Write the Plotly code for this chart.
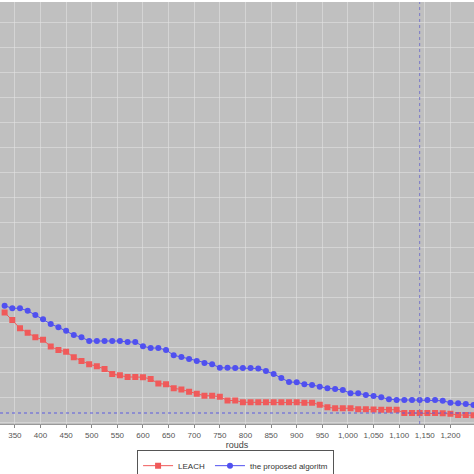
import plotly.graph_objects as go

# rondas (eje x), un punto cada 15 rondas
rounds = [330, 345, 360, 375, 390, 405, 420, 435, 450, 465, 480, 495, 510, 525, 540,
          555, 570, 585, 600, 615, 630, 645, 660, 675, 690, 705, 720, 735, 750, 765,
          780, 795, 810, 825, 840, 855, 870, 885, 900, 915, 930, 945, 960, 975, 990,
          1005, 1020, 1035, 1050, 1065, 1080, 1095, 1110, 1125, 1140, 1155, 1170, 1185,
          1200, 1215, 1230, 1245]

# LEACH
leach = [43.8, 40.8, 37.5, 35.7, 33.9, 32.9, 30.2, 28.8, 28.1, 25.9, 24.4, 23.1, 22.3, 21.2, 19.2,
         18.7, 18.0, 18.0, 17.9, 17.2, 15.4, 15.1, 13.5, 13.0, 12.1, 11.3, 10.5, 10.5, 10.1, 8.6,
         8.6, 7.9, 7.9, 7.9, 7.9, 7.9, 7.9, 7.9, 7.9, 7.7, 7.7, 6.9, 5.9, 5.5, 5.5,
         5.5, 5.1, 5.1, 5.0, 4.9, 4.9, 4.9, 3.6, 3.6, 3.6, 3.6, 3.6, 3.5,
         3.3, 2.8, 2.8, 2.7]

# algoritmo propuesto
proposed = [46.5, 45.5, 45.5, 44.5, 42.8, 41.1, 39.2, 37.9, 36.5, 34.8, 33.9, 32.4, 32.4, 32.4, 32.4,
            32.4, 32.0, 32.0, 30.3, 29.6, 29.6, 28.8, 26.7, 26.0, 25.2, 24.4, 23.6, 23.1, 21.7, 21.7,
            21.6, 21.6, 21.6, 21.4, 20.4, 19.2, 17.6, 16.0, 15.9, 15.1, 14.8, 14.1, 13.5, 13.2, 12.8,
            11.5, 11.5, 10.8, 10.4, 9.9, 9.1, 8.8, 8.8, 8.8, 8.8, 8.8, 8.8, 8.5,
            7.7, 7.5, 7.2, 6.8]

# punto del crosshair (serie LEACH, ronda 1140)
cross_x = rounds[54]
cross_y = leach[54]

fig = go.Figure()

fig.add_trace(go.Scatter(
    x=rounds, y=leach, name='LEACH', mode='lines+markers',
    line=dict(color='#f05a5a', width=1),
    marker=dict(symbol='square', size=6, color='#f05a5a')))

fig.add_trace(go.Scatter(
    x=rounds, y=proposed, name='the proposed algoritm', mode='lines+markers',
    line=dict(color='#5050f0', width=1),
    marker=dict(symbol='circle', size=6, color='#5050f0')))

# crosshair punteado
fig.add_shape(type='line', xref='x', yref='paper', x0=cross_x, x1=cross_x, y0=0, y1=1,
              line=dict(color='#7878c8', width=1, dash='dot'))
fig.add_shape(type='line', xref='paper', yref='y', x0=0, x1=1, y0=cross_y, y1=cross_y,
              line=dict(color='#5a5ae0', width=1, dash='dot'))

fig.update_layout(
    width=474, height=474,
    margin=dict(l=0, r=0, t=2, b=50, pad=0, autoexpand=False),
    paper_bgcolor='white',
    plot_bgcolor='#c0c0c0',
    font=dict(family='Liberation Sans', size=8, color='#444444'),
    showlegend=True,
    legend=dict(orientation='h', x=0.497, xanchor='center', y=-0.062, yanchor='top',
                bgcolor='white', bordercolor='#555555', borderwidth=1,
                font=dict(size=8, color='#333333'), itemwidth=30,
                tracegroupgap=0),
    xaxis=dict(range=[321, 1246], dtick=50, tick0=0, tickformat=',d', automargin=False,
               showgrid=True, gridcolor='rgba(225,225,225,0.6)', gridwidth=1,
               ticks='outside', ticklen=3, tickcolor='#888888',
               showline=True, linecolor='#999999',
               zeroline=False, tickfont=dict(size=8, color='#555555'),
               title=dict(text='rouds', font=dict(size=9, color='#444444'), standoff=3)),
    yaxis=dict(range=[-0.8, 168], dtick=10, tick0=0, automargin=False,
               showgrid=True, gridcolor='rgba(225,225,225,0.6)', gridwidth=1,
               showticklabels=False, zeroline=False, showline=False),
)

# quitar el margen por defecto del body para que la figura llene la ventana
fig.write_html("out.html", config={'displayModeBar': False},
               post_script="document.body.style.margin='0';")
